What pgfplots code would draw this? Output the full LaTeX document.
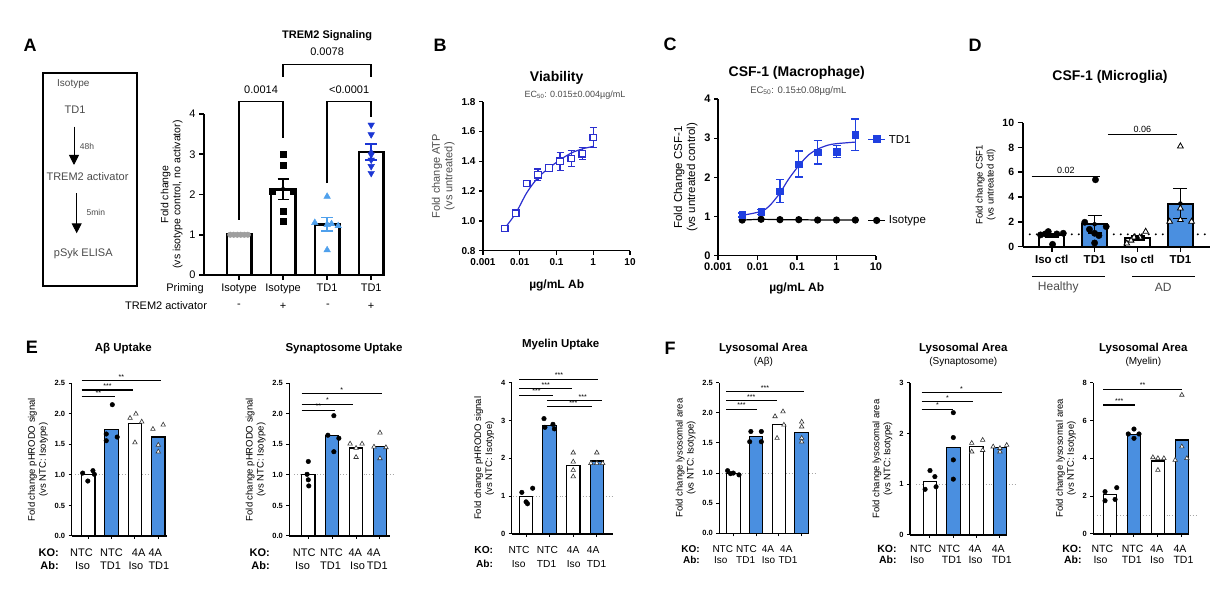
\documentclass[border=0pt]{standalone}
\usepackage{fontspec}
\setmainfont{Liberation Sans}
\usepackage{pgfplots}
\pgfplotsset{compat=1.18}
\usetikzlibrary{arrows.meta}

\definecolor{barblue}{HTML}{4A8FE0}
\definecolor{ltblue}{HTML}{4FA0EC}
\definecolor{dkblue}{HTML}{1B36D4}
\definecolor{fitblue}{HTML}{2B2FCF}
\definecolor{sqblue}{HTML}{1F3FE0}
\definecolor{inkgray}{HTML}{4A4A4A}

\newcommand\fs[2]{\fontsize{#1}{#2}\selectfont}

\pgfplotsset{
  /pgf/number format/assume math mode=true,
  gp/.style={
    scale only axis, anchor=south west, clip=false,
    axis lines=left, axis line style={-},
    tick align=outside, tick style={black},
    enlargelimits=false,
  },
  panelEF/.style={
    gp,
    axis line style={-, line width=1.1pt},
    tick style={black, line width=1pt},
    major tick length=3pt,
    xtick={1,2,3,4}, xticklabels={},
    yticklabel style={font=\bfseries\fs{7.5}{8}},
    ylabel style={align=center, font=\fs{9.5}{11}},
    ymin=0,
  },
  wbar/.style={ybar, bar shift=0pt, bar width=13.5pt, fill=white, draw=black, line width=1.1pt},
  bbar/.style={ybar, bar shift=0pt, bar width=13.5pt, fill=barblue, draw=black, line width=1.1pt},
  ptcirc/.style={only marks, mark=*, mark size=2.3pt, black},
  pttri/.style={only marks, mark=triangle*, mark size=2.6pt,
    mark options={fill=white, draw=black!80, line width=0.6pt}},
  refl/.style={gray!70, dotted, line width=0.9pt},
}
\tikzset{
  sig/.style={anchor=south, inner sep=0.8pt, font=\fs{7}{7}},
  sigline/.style={line width=1.1pt},
  rowlab/.style={anchor=base west, inner sep=0pt, font=\efont},
}
% font of the group labels under the small panels
\newcommand\efont{\fs{11}{12}}
% first label row (knock-out), x offsets from the axis' left edge
\newcommand\KOrow[5]{%
  \node[rowlab, xshift=#2, yshift=#1] at (rel axis cs:0,0) {NTC};
  \node[rowlab, xshift=#3, yshift=#1] at (rel axis cs:0,0) {NTC};
  \node[rowlab, xshift=#4, yshift=#1] at (rel axis cs:0,0) {4A};
  \node[rowlab, xshift=#5, yshift=#1] at (rel axis cs:0,0) {4A};
}
% second label row (antibody)
\newcommand\Abrow[5]{%
  \node[rowlab, xshift=#2, yshift=#1] at (rel axis cs:0,0) {Iso};
  \node[rowlab, xshift=#3, yshift=#1] at (rel axis cs:0,0) {TD1};
  \node[rowlab, xshift=#4, yshift=#1] at (rel axis cs:0,0) {Iso};
  \node[rowlab, xshift=#5, yshift=#1] at (rel axis cs:0,0) {TD1};
}
\newcommand\KOtag[3]{%
  \node[anchor=base east, inner sep=0pt, font=\bfseries\efont, xshift=#1, yshift=#2] at (rel axis cs:0,0) {KO:};
  \node[anchor=base east, inner sep=0pt, font=\bfseries\efont, xshift=#1, yshift=#3] at (rel axis cs:0,0) {Ab:};
}

\begin{document}
\begin{tikzpicture}[x=1pt, y=1pt]
\path[use as bounding box] (0,0) rectangle (1232,594);

% ---------------- panel letters ----------------
\begin{scope}[every node/.style={font=\bfseries\fs{18}{20}}]
\node at (30,549) {A};
\node at (440,549) {B};
\node at (670,550) {C};
\node at (975,549) {D};
\node at (32,247) {E};
\node at (670,246) {F};
\end{scope}

% ---------------- A: protocol scheme ----------------
\draw[line width=1.3pt] (43,521) rectangle (137,308);
\begin{scope}[every node/.style={text=inkgray}]
\node[font=\fs{10}{11}] at (73.3,509.7) {Isotype};
\node[font=\fs{11}{12}] at (75,484) {TD1};
\node[font=\fs{8.5}{9}] at (87,447.3) {48h};
\node[font=\fs{11}{12}] at (87.5,417.3) {TREM2 activator};
\node[font=\fs{8.5}{9}] at (95.8,381.3) {5min};
\node[font=\fs{11}{12}] at (83.3,340.7) {pSyk ELISA};
\end{scope}
\draw[line width=1pt, -{Triangle[width=10pt,length=10pt]}] (74,467.3) -- (74,429);
\draw[line width=1pt, -{Triangle[width=10pt,length=10pt]}] (76.7,400.7) -- (76.7,360.7);

% ---------------- A: TREM2 signaling ----------------
\begin{axis}[gp, at={(204pt,319pt)}, width=176pt, height=161pt,
  xmin=0.205, xmax=4.2, ymin=0, ymax=4,
  axis line style={-, line width=2pt}, tick style={black, line width=1.6pt}, major tick length=5pt,
  xtick={1,2,3,4}, xticklabels={Isotype,Isotype,TD1,TD1},
  ytick={0,1,2,3,4},
  tick label style={font=\fs{11}{12}},
  ylabel={Fold change\\(vs isotype control, no activator)},
  ylabel style={align=center, font=\fs{10.5}{12}},
]
\addplot[ybar, bar shift=0pt, bar width=24.5pt, fill=white, draw=black, line width=2.5pt]
  coordinates {(1,1.0) (2,2.13) (3,1.26) (4,3.05)};
\addplot[only marks, mark=*, mark size=2.8pt, gray!75]
  coordinates {(0.8,1) (0.88,1) (0.96,1) (1.04,1) (1.12,1) (1.2,1)};
\addplot[only marks, mark=square*, mark size=3pt, black]
  coordinates {(2,3.01) (2,2.72) (1.75,2.07) (2.22,2.07) (2,1.58) (2,1.33)};
\addplot[only marks, mark=triangle*, mark size=3.8pt, ltblue]
  coordinates {(3,1.95) (2.72,1.3) (3,1.25) (3.25,1.22) (3.1,1.27) (3,0.62)};
\addplot[only marks, mark=triangle*, mark size=3.8pt, dkblue, mark options={rotate=180}]
  coordinates {(4,3.73) (4,3.49) (4,2.99) (4,2.86) (4,2.7) (4,2.53)};
\addplot[only marks, mark=none, black, error bars/.cd, y dir=both, y explicit,
  error bar style={black, line width=1.6pt},
  error mark options={rotate=90, black, line width=1.6pt, mark size=5.5pt}]
  coordinates {(2,2.13) +- (0,0.25)};
\addplot[only marks, mark=none, ltblue, error bars/.cd, y dir=both, y explicit,
  error bar style={ltblue, line width=1.6pt},
  error mark options={rotate=90, ltblue, line width=1.6pt, mark size=6pt}]
  coordinates {(3,1.26) +- (0,0.17)};
\addplot[only marks, mark=none, dkblue, error bars/.cd, y dir=both, y explicit,
  error bar style={dkblue, line width=1.6pt},
  error mark options={rotate=90, dkblue, line width=1.6pt, mark size=6pt}]
  coordinates {(4,3.05) +- (0,0.2)};
\draw[line width=1.5pt] (axis cs:1,1.37) |- (axis cs:1.5,4.31) -| (axis cs:2,3.40);
\draw[line width=1.5pt] (axis cs:3,2.28) |- (axis cs:3.5,4.31) -| (axis cs:4,3.93);
\draw[line width=1.5pt] (axis cs:2,4.93) |- (axis cs:3,5.23) -| (axis cs:4,4.93);
\node[font=\fs{11}{12}] at (axis cs:1.5,4.6) {0.0014};
\node[font=\fs{11}{12}] at (axis cs:3.5,4.6) {<0.0001};
\node[font=\fs{11}{12}] at (axis cs:3,5.55) {0.0078};
\node[font=\bfseries\fs{11}{12}] at (axis cs:3,5.95) {TREM2 Signaling};
\end{axis}
\node[font=\fs{11}{12}] at (185,305.7) {Priming};
\node[font=\fs{11}{12}] at (166,288) {TREM2 activator};
\node[font=\fs{11}{12}] at (239,288) {-};
\node[font=\fs{11}{12}] at (283,288) {+};
\node[font=\fs{11}{12}] at (328,288) {-};
\node[font=\fs{11}{12}] at (371,288) {+};

% ---------------- B: viability ----------------
\begin{axis}[gp, at={(483pt,343.3pt)}, width=147pt, height=149pt,
  xmode=log, xmin=0.001, xmax=10, ymin=0.8, ymax=1.8,
  axis line style={-, line width=1.4pt}, tick style={black, line width=1.3pt}, major tick length=4pt,
  xminorticks=false,
  xtick={0.001,0.01,0.1,1,10}, xticklabels={0.001,0.01,0.1,1,10},
  ytick={0.8,1,1.2,1.4,1.6,1.8}, yticklabels={0.8,1.0,1.2,1.4,1.6,1.8},
  tick label style={font=\bfseries\fs{10}{11}},
  ylabel={Fold change ATP\\(vs untreated)},
  ylabel style={align=center, font=\fs{11}{12.5}, text=black!70},
]
\addplot[fitblue, line width=1.2pt, smooth] coordinates {
  (0.0039,0.95) (0.0078,1.052) (0.0156,1.19) (0.03125,1.29) (0.0625,1.355)
  (0.125,1.41) (0.25,1.455) (0.5,1.483) (1,1.50)};
\addplot[fitblue, only marks, mark=square*, mark size=3.2pt,
  mark options={fill=white, draw=fitblue, line width=1.2pt},
  error bars/.cd, y dir=both, y explicit,
  error bar style={fitblue, line width=1.2pt},
  error mark options={rotate=90, fitblue, line width=1.2pt, mark size=3.5pt}]
  coordinates {
  (0.0039,0.95) +- (0,0.01)
  (0.0078,1.052) +- (0,0.012)
  (0.0156,1.25) +- (0,0.01)
  (0.03125,1.31) +- (0,0.038)
  (0.0625,1.355) +- (0,0.022)
  (0.125,1.40) +- (0,0.06)
  (0.25,1.42) +- (0,0.053)
  (0.5,1.45) +- (0,0.04)
  (1,1.56) +- (0,0.068)};
\end{axis}
\node[font=\bfseries\fs{14}{16}] at (556.7,516) {Viability};
\node[font=\fs{9}{10}, text=inkgray] at (575,499) {EC\textsubscript{50}: 0.015±0.004µg/mL};
\node[font=\bfseries\fs{12}{14}] at (556.7,309) {µg/mL Ab};

% ---------------- C: CSF-1 macrophage ----------------
\begin{axis}[gp, at={(718pt,338.3pt)}, width=158pt, height=156.7pt,
  xmode=log, xmin=0.001, xmax=10, ymin=0, ymax=4,
  axis line style={-, line width=1.4pt}, tick style={black, line width=1.3pt}, major tick length=4pt,
  xminorticks=false,
  xtick={0.001,0.01,0.1,1,10}, xticklabels={0.001,0.01,0.1,1,10},
  ytick={0,1,2,3,4},
  tick label style={font=\bfseries\fs{11}{12}},
  ylabel={Fold Change CSF-1\\(vs untreated control)},
  ylabel style={align=center, font=\fs{11.5}{13}},
]
\addplot[fitblue, line width=1.2pt, smooth] coordinates {
  (0.0041,1.03) (0.0123,1.13) (0.02,1.27) (0.037,1.6) (0.06,1.94) (0.111,2.3)
  (0.2,2.58) (0.333,2.72) (0.6,2.82) (1,2.86) (3,2.9)};
\addplot[black, line width=1.2pt, mark=*, mark size=3pt] coordinates {
  (0.0041,0.91) (0.0123,0.93) (0.037,0.92) (0.111,0.92) (0.333,0.91) (1,0.91) (3,0.91)};
\addplot[sqblue, only marks, mark=square*, mark size=3.3pt,
  error bars/.cd, y dir=both, y explicit,
  error bar style={sqblue, line width=1.2pt},
  error mark options={rotate=90, sqblue, line width=1.2pt, mark size=4pt}]
  coordinates {
  (0.0041,1.04) +- (0,0.05)
  (0.0123,1.12) +- (0,0.06)
  (0.037,1.65) +- (0,0.3)
  (0.111,2.34) +- (0,0.33)
  (0.333,2.64) +- (0,0.3)
  (1,2.66) +- (0,0.16)
  (3,3.09) +- (0,0.4)};
\addplot[sqblue, line width=1.2pt, mark=square*, mark size=3.3pt, mark indices={2}]
  coordinates {(6.4,2.97) (10.4,2.97) (16.9,2.97)}
  node[pos=1, right, text=black, font=\fs{11.5}{13}] {TD1};
\addplot[black, line width=1.2pt, mark=*, mark size=3pt, mark indices={2}]
  coordinates {(6.4,0.9) (10.4,0.9) (16.9,0.9)}
  node[pos=1, right, text=black, font=\fs{11.5}{13}] {Isotype};
\end{axis}
\node[font=\bfseries\fs{14}{16}] at (796.7,520.7) {CSF-1 (Macrophage)};
\node[font=\fs{9.5}{10}, text=inkgray] at (798.3,503) {EC\textsubscript{50}: 0.15±0.08µg/mL};
\node[font=\bfseries\fs{12}{14}] at (796.7,305.7) {µg/mL Ab};

% ---------------- D: CSF-1 microglia ----------------
\begin{axis}[gp, at={(1022.7pt,347.3pt)}, width=187.3pt, height=124pt,
  xmin=0.324, xmax=4.69, ymin=0, ymax=10,
  axis line style={-, line width=1.8pt}, tick style={black, line width=1.6pt}, major tick length=5pt,
  xtick={1,2,3,4}, xticklabels={Iso ctl,TD1,Iso ctl,TD1},
  xticklabel style={font=\bfseries\fs{11.5}{13}},
  ytick={0,2,4,6,8,10}, yticklabel style={font=\bfseries\fs{10.5}{12}},
  ylabel={Fold change CSF1\\(vs untreated ctl)},
  ylabel style={align=center, font=\fs{9.5}{11}},
]
\addplot[black, line width=2.2pt, line cap=round, dash pattern=on 0pt off 7pt]
  coordinates {(0.49,1) (4.69,1)};
\addplot[ybar, bar shift=0pt, bar width=25pt, fill=white, draw=black, line width=2pt]
  coordinates {(1,0.92) (3,0.70)};
\addplot[ybar, bar shift=0pt, bar width=25pt, fill=barblue, draw=black, line width=2pt]
  coordinates {(2,1.81) (4,3.48)};
\addplot[only marks, mark=*, mark size=3.2pt, black] coordinates {
  (0.74,0.95) (0.92,1.22) (1.02,0.19) (1.12,1.03) (1.27,1.08) (0.85,1.03)
  (2.02,5.4) (1.77,1.97) (2.27,1.62) (2,1.08) (2,0.3) (1.88,1.4) (2.1,0.9)};
\addplot[only marks, mark=triangle*, mark size=3.3pt,
  mark options={fill=white, draw=black, line width=0.8pt}] coordinates {
  (2.75,0.27) (2.92,0.76) (3.19,1.22) (3.05,0.76) (2.85,0.5)
  (4,8.1) (4,3.1) (3.75,2.03) (4.26,2.03) (4,2.16)};
\addplot[only marks, mark=none, black, error bars/.cd, y dir=both, y explicit,
  error bar style={black, line width=1.5pt},
  error mark options={rotate=90, black, line width=1.5pt, mark size=7pt}]
  coordinates {(1,0.92) +- (0,0.15) (2,1.81) +- (0,0.7) (3,0.70) +- (0,0.15) (4,3.48) +- (0,1.2)};
\draw[line width=1.3pt] (axis cs:0.534,5.68) -- (axis cs:2.126,5.68)
  node[midway, anchor=south, inner sep=2pt, font=\fs{9}{10}] {0.02};
\draw[line width=1.3pt] (axis cs:2.31,9.05) -- (axis cs:3.92,9.05)
  node[midway, anchor=south, inner sep=1pt, font=\fs{9}{10}] {0.06};
\end{axis}
\node[font=\bfseries\fs{14}{16}] at (1110,517.3) {CSF-1 (Microglia)};
\draw[line width=1.2pt] (1032,317.3) -- (1105,317.3);
\draw[line width=1.2pt] (1132,317.3) -- (1195,317.3);
\node[font=\fs{12}{13}, text=inkgray] at (1058.3,306.5) {Healthy};
\node[font=\fs{12}{13}, text=inkgray] at (1163.3,306.5) {AD};

% ---------------- E: uptake ----------------
\renewcommand\efont{\fs{11}{12}}
\begin{axis}[panelEF, at={(71.7pt,58pt)}, width=95pt, height=152.7pt,
  xmin=0.29, xmax=4.36, ymax=2.5, ytick={0,0.5,1,1.5,2,2.5},
  yticklabel style={/pgf/number format/.cd, fixed, fixed zerofill, precision=1},
  ylabel={Fold change pHRODO signal\\(vs NTC: Isotype)}]
\addplot[refl] coordinates {(0.45,1) (4.36,1)};
\addplot[wbar] coordinates {(1,1.0) (3,1.84)};
\addplot[bbar] coordinates {(2,1.75) (4,1.62)};
\addplot[ptcirc] coordinates {(0.76,1.03) (0.98,0.90) (1.2,1.07) (1.26,1.01)
  (2.03,2.15) (1.77,1.67) (1.77,1.56) (2.24,1.62)};
\addplot[pttri] coordinates {(2.79,1.93) (3.04,2.0) (3.29,1.87) (3.0,1.53)
  (3.77,1.75) (4.21,1.82) (4.0,1.49) (4.0,1.38)};
\draw[sigline] (axis cs:0.72,2.54) -- (axis cs:4.12,2.54) node[sig, midway] {**};
\draw[sigline] (axis cs:0.72,2.39) -- (axis cs:2.93,2.39) node[sig, midway] {***};
\draw[sigline] (axis cs:0.72,2.28) -- (axis cs:2.14,2.28) node[sig, midway] {**};
\KOrow{-20.6pt}{-1.7pt}{28.3pt}{60pt}{76.6pt}
\Abrow{-33.2pt}{3.3pt}{28.3pt}{56.6pt}{76.6pt}
\KOtag{-12.7pt}{-20.6pt}{-33.2pt}
\end{axis}
\node[font=\bfseries\fs{11.5}{13}] at (123.3,245.7) {Aβ Uptake};

\begin{axis}[panelEF, at={(289.3pt,58pt)}, width=100.7pt, height=152.7pt,
  xmin=0.205, xmax=4.42, ymax=2.5, ytick={0,0.5,1,1.5,2,2.5},
  yticklabel style={/pgf/number format/.cd, fixed, fixed zerofill, precision=1},
  ylabel={Fold change pHRODO signal\\(vs NTC: Isotype)}]
\addplot[refl] coordinates {(0.4,1) (4.55,1)};
\addplot[wbar] coordinates {(1,1.0) (3,1.44)};
\addplot[bbar] coordinates {(2,1.64) (4,1.47)};
\addplot[ptcirc] coordinates {(1,1.22) (0.95,1.01) (1,0.92) (1.02,0.82)
  (2.07,1.97) (1.82,1.65) (2.28,1.6) (2.07,1.38)};
\addplot[pttri] coordinates {(2.75,1.51) (3.25,1.51) (3,1.44) (3,1.29)
  (4,1.69) (3.75,1.46) (4.25,1.45) (4,1.27)};
\draw[sigline] (axis cs:0.72,2.33) -- (axis cs:4.07,2.33) node[sig, midway] {*};
\draw[sigline] (axis cs:0.72,2.16) -- (axis cs:2.88,2.16) node[sig, midway] {*};
\draw[sigline] (axis cs:0.72,2.06) -- (axis cs:2.12,2.06) node[sig, midway] {**};
\KOrow{-20.6pt}{3.4pt}{30.7pt}{59pt}{77.4pt}
\Abrow{-33.2pt}{5.7pt}{30.7pt}{60.7pt}{77.4pt}
\KOtag{-19.3pt}{-20.6pt}{-33.2pt}
\end{axis}
\node[font=\bfseries\fs{11.5}{13}] at (344,245.7) {Synaptosome Uptake};

\renewcommand\efont{\fs{10.2}{12}}
\begin{axis}[panelEF, at={(511.7pt,60pt)}, width=101.6pt, height=151.3pt,
  xmin=0.39, xmax=4.7, ymax=4, ytick={0,1,2,3,4},
  ylabel={Fold change pHRODO signal\\(vs NTC: Isotype)}]
\addplot[refl] coordinates {(0.45,1) (4.7,1)};
\addplot[wbar] coordinates {(1,0.98) (3,1.8)};
\addplot[bbar] coordinates {(2,2.88) (4,1.93)};
\addplot[ptcirc] coordinates {(0.82,1.10) (1.28,1.21) (1,0.85) (1.06,0.8)
  (1.76,3.05) (2.14,2.9) (1.8,2.82) (2.2,2.78)};
\addplot[pttri] coordinates {(3,2.15) (3,1.91) (3,1.69) (3,1.52)
  (4,2.15) (3.75,1.87) (4.25,1.87) (4,1.87)};
\draw[sigline] (axis cs:0.72,4.09) -- (axis cs:4.07,4.09) node[sig, midway] {***};
\draw[sigline] (axis cs:0.72,3.85) -- (axis cs:2.94,3.85) node[sig, midway] {***};
\draw[sigline] (axis cs:0.72,3.67) -- (axis cs:2.16,3.67) node[sig, midway] {***};
\draw[sigline] (axis cs:1.88,3.52) -- (axis cs:4.24,3.52) node[sig, midway, xshift=8pt] {***};
\draw[sigline] (axis cs:1.88,3.37) -- (axis cs:3.79,3.37) node[sig, midway, xshift=4pt] {***};
\KOrow{-20pt}{-3.4pt}{25pt}{55pt}{75pt}
\Abrow{-33.3pt}{0pt}{25pt}{55pt}{75pt}
\KOtag{-18.4pt}{-20pt}{-33.3pt}
\end{axis}
\node[font=\bfseries\fs{11.5}{13}] at (560.7,249) {Myelin Uptake};

% ---------------- F: lysosomal area ----------------
\renewcommand\efont{\fs{10}{12}}
\begin{axis}[panelEF, at={(719.3pt,60.7pt)}, width=89pt, height=150.6pt,
  xmin=0.386, xmax=4.29, ymax=2.5, ytick={0,0.5,1,1.5,2,2.5},
  yticklabel style={/pgf/number format/.cd, fixed, fixed zerofill, precision=1},
  ylabel={Fold change lysosomal area\\(vs NTC: Isotype)}]
\addplot[refl] coordinates {(0.5,1) (4.66,1)};
\addplot[wbar] coordinates {(1,1.0) (3,1.81)};
\addplot[bbar] coordinates {(2,1.6) (4,1.68)};
\addplot[ptcirc] coordinates {(0.75,1.04) (1,1.0) (1.25,0.97) (0.88,0.99)
  (1.77,1.69) (2.23,1.69) (1.72,1.52) (2.23,1.52)};
\addplot[pttri] coordinates {(2.83,1.94) (3.18,2.02) (3.22,1.80) (2.92,1.58)
  (4,1.85) (4,1.77) (4,1.58) (4,1.52)};
\draw[sigline] (axis cs:0.68,2.35) -- (axis cs:4.1,2.35) node[sig, midway] {***};
\draw[sigline] (axis cs:0.68,2.2) -- (axis cs:2.9,2.2) node[sig, midway] {***};
\draw[sigline] (axis cs:0.68,2.06) -- (axis cs:2.03,2.06) node[sig, midway] {***};
\KOrow{-19pt}{-7pt}{16.7pt}{42.4pt}{60.7pt}
\Abrow{-30.7pt}{-5.3pt}{16.7pt}{42.4pt}{59pt}
\KOtag{-19.3pt}{-19pt}{-30.7pt}
\end{axis}
\node[font=\bfseries\fs{11.5}{13}] at (763.3,245.7) {Lysosomal Area};
\node[font=\fs{10}{12}] at (763.3,231.7) {(Aβ)};

\renewcommand\efont{\fs{10.5}{12}}
\begin{axis}[panelEF, at={(910pt,59pt)}, width=96.7pt, height=152.3pt,
  xmin=0.143, xmax=4.29, ymax=3, ytick={0,1,2,3},
  ylabel={Fold change lysosomal area\\(vs NTC: Isotype)}]
\addplot[refl] coordinates {(0.4,1) (4.73,1)};
\addplot[wbar] coordinates {(1,1.05) (3,1.74)};
\addplot[bbar] coordinates {(2,1.72) (4,1.72)};
\addplot[ptcirc] coordinates {(1,1.27) (1.21,1.15) (0.79,0.9) (1.26,0.95)
  (2,2.41) (2,1.92) (2,1.48) (2,1.10)};
\addplot[pttri] coordinates {(2.79,1.81) (3.26,1.87) (2.79,1.64) (3.26,1.67)
  (3.71,1.74) (4.29,1.77) (4,1.71) (4,1.64)};
\draw[sigline] (axis cs:0.64,2.80) -- (axis cs:4.07,2.80) node[sig, midway] {*};
\draw[sigline] (axis cs:0.64,2.63) -- (axis cs:2.86,2.63) node[sig, midway] {*};
\draw[sigline] (axis cs:0.64,2.48) -- (axis cs:2.0,2.48) node[sig, midway] {*};
\KOrow{-17.3pt}{0pt}{28.3pt}{58.3pt}{81.7pt}
\Abrow{-29pt}{0pt}{31.7pt}{58.3pt}{81.7pt}
\KOtag{-13.3pt}{-17.3pt}{-29pt}
\end{axis}
\node[font=\bfseries\fs{11.5}{13}] at (963.3,245.7) {Lysosomal Area};
\node[font=\fs{10}{12}] at (963.3,231.7) {(Synaptosome)};

\begin{axis}[panelEF, at={(1093.3pt,60pt)}, width=95pt, height=151.3pt,
  xmin=0.30, xmax=4.27, ymax=8, ytick={0,2,4,6,8},
  ylabel={Fold change lysosomal area\\(vs NTC: Isotype)}]
\addplot[refl] coordinates {(0.45,1) (4.62,1)};
\addplot[wbar] coordinates {(1,2.07) (3,3.86)};
\addplot[bbar] coordinates {(2,5.27) (4,4.97)};
\addplot[ptcirc] coordinates {(0.79,2.24) (1.28,2.45) (0.79,1.76) (1.21,1.83)
  (2,5.55) (1.76,5.29) (2.21,5.29) (2,5.06)};
\addplot[pttri] coordinates {(2.79,4.05) (3,4.0) (3.25,4.0) (3,3.38)
  (4,7.35) (4,4.62) (3.72,3.91) (4.21,4.0)};
\draw[sigline] (axis cs:0.72,7.65) -- (axis cs:4.0,7.65) node[sig, midway] {**};
\draw[sigline] (axis cs:0.72,6.82) -- (axis cs:2.05,6.82) node[sig, midway] {***};
\KOrow{-18.3pt}{-2pt}{28.4pt}{56.7pt}{80pt}
\Abrow{-30pt}{0pt}{28.4pt}{56.7pt}{80pt}
\KOtag{-11.6pt}{-18.3pt}{-30pt}
\end{axis}
\node[font=\bfseries\fs{11.5}{13}] at (1143.3,245.7) {Lysosomal Area};
\node[font=\fs{10}{12}] at (1143.3,231.7) {(Myelin)};

\end{tikzpicture}
\end{document}
